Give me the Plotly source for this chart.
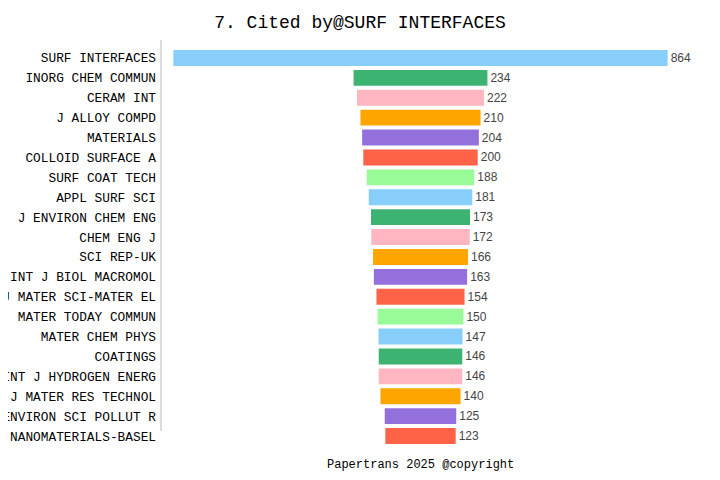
import plotly.graph_objects as go

# Journals citing SURF INTERFACES, ranked
journals = [
    "SURF INTERFACES", "INORG CHEM COMMUN", "CERAM INT", "J ALLOY COMPD",
    "MATERIALS", "COLLOID SURFACE A", "SURF COAT TECH", "APPL SURF SCI",
    "J ENVIRON CHEM ENG", "CHEM ENG J", "SCI REP-UK", "INT J BIOL MACROMOL",
    "J MATER SCI-MATER EL", "MATER TODAY COMMUN", "MATER CHEM PHYS",
    "COATINGS", "INT J HYDROGEN ENERG", "J MATER RES TECHNOL",
    "ENVIRON SCI POLLUT R", "NANOMATERIALS-BASEL",
]
citations = [864, 234, 222, 210, 204, 200, 188, 181, 173, 172,
             166, 163, 154, 150, 147, 146, 146, 140, 125, 123]

palette = ["#87CEFA", "#3CB371", "#FFB6C1", "#FFA500",
           "#9370DB", "#FF6347", "#98FB98"]
bar_colors = [palette[i % len(palette)] for i in range(len(journals))]

fig = go.Figure(go.Funnel(
    y=journals,
    x=citations,
    textinfo="value",
    textposition="outside",
    textfont=dict(family="Liberation Sans", size=12, color="#444"),
    marker=dict(color=bar_colors),
    connector=dict(visible=False),
    cliponaxis=False,
))

# symmetric range with 5% padding around the widest bar
half = max(citations) / 2 * 1.05

# page has an 8px body margin, so the figure is 704x464
fig.update_layout(
    width=704, height=464,
    title=dict(text="7. Cited by@SURF INTERFACES", x=0.5, xanchor="center",
               y=0.970, yanchor="middle",
               font=dict(family="Liberation Mono", size=18, color="black")),
    font=dict(family="Liberation Mono", size=13, color="black"),
    margin=dict(l=153, r=32, t=40, b=26, autoexpand=False),
    plot_bgcolor="white", paper_bgcolor="white",
    xaxis=dict(visible=False, range=[-half, half]),
    yaxis=dict(showgrid=False, ticks="", automargin=False, ticklabelstandoff=4,
               tickfont=dict(family="Liberation Mono", size=12.8, color="black")),
    showlegend=False,
)

# thin grey rule left of the bars
fig.add_shape(type="line", xref="paper", yref="paper", x0=0, x1=0, y0=0.038, y1=1.02,
              line=dict(color="#dcdcdc", width=2))

fig.add_annotation(text="Papertrans 2025 @copyright", xref="paper", yref="paper",
                   x=0.5, y=-0.048, yanchor="middle", showarrow=False,
                   font=dict(family="Liberation Mono", size=12, color="black"))

fig.write_html("out.html")
